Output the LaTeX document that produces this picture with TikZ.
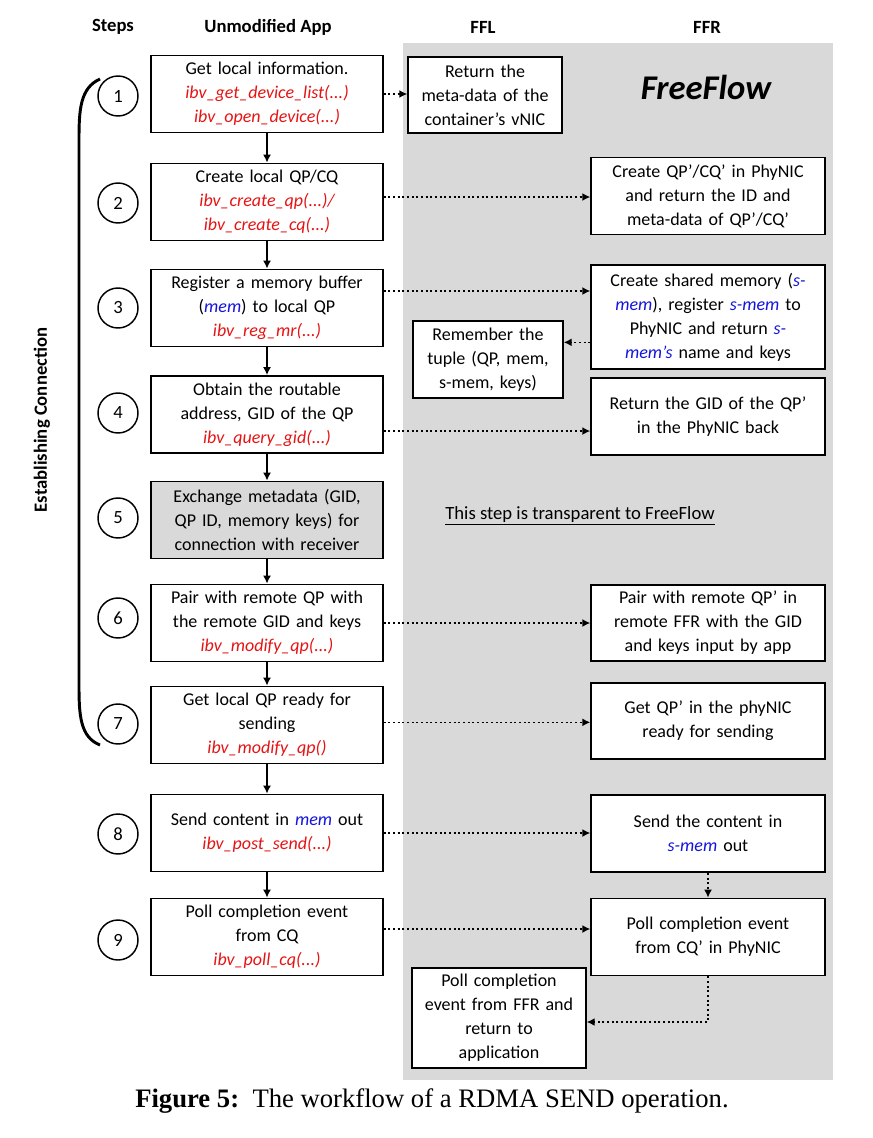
\documentclass[tikz,border=0pt]{standalone}
\usepackage{fontspec}
\setmainfont{Carlito}
\newfontfamily\capfont{Liberation Serif}
\usetikzlibrary{arrows.meta}
\definecolor{bgray}{RGB}{217,217,217}
\definecolor{fred}{RGB}{230,20,20}
\definecolor{fblue}{RGB}{20,20,220}
\newcommand{\fn}[1]{\textcolor{fred}{\itshape #1}}
\newcommand{\bl}[1]{\textcolor{fblue}{\itshape #1}}
\begin{document}
\begin{tikzpicture}[x=0.75pt,y=-0.75pt,
  box/.style={draw,line width=1.1pt,fill=white,align=center,font=\fontsize{13.5}{18}\selectfont,inner sep=1pt},
  lb/.style={box,minimum width=174pt,minimum height=58pt,text width=170pt},
  rb/.style={box,minimum width=175.5pt,minimum height=58pt,text width=170pt},
  stepc/.style={draw,circle,line width=1.1pt,minimum size=30pt,inner sep=0pt,font=\fontsize{14}{16}\selectfont},
  hd/.style={font=\bfseries\fontsize{14}{16}\selectfont},
  sarr/.style={line width=1.1pt,-{Latex[length=6pt,width=6pt]}},
  darr/.style={line width=1.1pt,dash pattern=on 1.5pt off 2pt,-{Latex[length=6pt,width=6pt]}}]
\useasboundingbox (0,0) rectangle (872,1138);
\fill[bgray] (403,43) rectangle (833,1080);
\node[hd] (h1) at (113,27) {Steps};
\node[hd] (h2) at (268,27) {Unmodified App};
\node[hd] (h3) at (483,27) {FFL};
\node[hd] (h4) at (707,27) {FFR};
\node[font=\bfseries\itshape\fontsize{26}{30}\selectfont] (ff) at (706,87) {FreeFlow};

\node[lb] (b1) at (267,94) {Get local information.\\\fn{ibv\_get\_device\_list(...)}\\\fn{ibv\_open\_device(...)}};
\node[lb] (b2) at (267,202) {Create local QP/CQ\\\fn{ibv\_create\_qp(...)/}\\\fn{ibv\_create\_cq(...)}};
\node[lb] (b3) at (267,308) {Register a memory buffer\\(\bl{mem}) to local QP\\\fn{ibv\_reg\_mr(...)}};
\node[lb] (b4) at (267,414.5) {Obtain the routable\\address, GID of the QP\\\fn{ibv\_query\_gid(...)}};
\node[lb,fill=bgray] (b5) at (267,520) {Exchange metadata (GID,\\QP ID, memory keys) for\\connection with receiver};
\node[lb] (b6) at (267,623) {Pair with remote QP with\\the remote GID and keys\\\fn{ibv\_modify\_qp(...)}};
\node[lb] (b7) at (267,725) {Get local QP ready for\\sending\\\fn{ibv\_modify\_qp()}};
\node[lb] (b8) at (267,833) {Send content in \bl{mem} out\\\fn{ibv\_post\_send(...)}};
\node[lb] (b9) at (267,937) {Poll completion event\\from CQ\\\fn{ibv\_poll\_cq(...)}};

\foreach \i/\y in {1/96,2/203,3/308,4/413,5/518,6/618,7/724,8/834,9/940}
  \node[stepc] (s\i) at (118,\y) {\i};

\draw[line width=2.2pt] (100,79) .. controls (80,88) and (79,110) .. (79,140) -- (79,685) .. controls (79,715) and (80,737) .. (100,745);
\node[hd,rotate=90] (ec) at (42,420) {Establishing Connection};

\node[box,minimum width=115.5pt,minimum height=57pt,text width=112pt] (f1) at (485,95) {Return the\\meta-data of the\\container’s vNIC};
\node[rb] (r2) at (708,196) {Create QP’/CQ’ in PhyNIC\\and return the ID and\\meta-data of QP’/CQ’};
\node[rb,minimum height=78pt] (r3) at (708,317) {Create shared memory (\bl{s-}\\\bl{mem}), register \bl{s-mem} to\\PhyNIC and return \bl{s-}\\\bl{mem’s} name and keys};
\node[box,minimum width=112.5pt,minimum height=58pt,text width=110pt] (f3) at (488,359.5) {Remember the\\tuple (QP, mem,\\s-mem, keys)};
\node[rb] (r4) at (708,416.5) {Return the GID of the QP’\\in the PhyNIC back};
\node[font=\fontsize{14}{18}\selectfont] (tr) at (580,516) {\underline{This step is transparent to FreeFlow}};
\node[rb,minimum height=57pt] (r6) at (708,623) {Pair with remote QP’ in\\remote FFR with the GID\\and keys input by app};
\node[rb,minimum height=57pt] (r7) at (708,721) {Get QP’ in the phyNIC\\ready for sending};
\node[rb] (r8) at (708,833.5) {Send the content in\\\bl{s-mem} out};
\node[rb] (r9) at (708,937) {Poll completion event\\from CQ’ in PhyNIC};
\node[box,minimum width=130.5pt,minimum height=75pt,text width=128pt] (f9) at (499,1018) {Poll completion\\event from FFR and\\return to\\application};

\foreach \a/\b in {b1/b2,b2/b3,b3/b4,b4/b5,b5/b6,b6/b7,b7/b8,b8/b9}
  \draw[sarr] (\a) -- (\b);

\coordinate (c9) at (0,1022);
\coordinate (p2) at ([yshift=3.75pt]b2.east);
\coordinate (p3) at ([yshift=12.75pt]b3.east);
\coordinate (q3) at ([yshift=-19pt]r3.west);
\coordinate (p4) at ([yshift=-12.4pt]b4.east);
\coordinate (p7) at ([yshift=2pt]b7.east);
\coordinate (p9) at ([yshift=6pt]b9.east);
\draw[darr] (b1.east) -- (b1.east -| f1.west);
\draw[darr] (p2) -- (p2 -| r2.west);
\draw[darr] (p3) -- (p3 -| r3.west);
\draw[darr] (q3) -- (q3 -| f3.east);
\draw[darr] (p4) -- (p4 -| r4.west);
\draw[darr] (b6.east) -- (b6.east -| r6.west);
\draw[darr] (p7) -- (p7 -| r7.west);
\draw[darr] (b8.east) -- (b8.east -| r8.west);
\draw[darr] (p9) -- (p9 -| r9.west);
\draw[darr] (r8) -- (r9);
\draw[darr] (r9.south) |- (f9.east |- c9);

\node[font=\capfont\fontsize{20}{24}\selectfont] (cap) at (432,1101) {\textbf{Figure 5:}\ \ The workflow of a RDMA SEND operation.};
\end{tikzpicture}
\end{document}
